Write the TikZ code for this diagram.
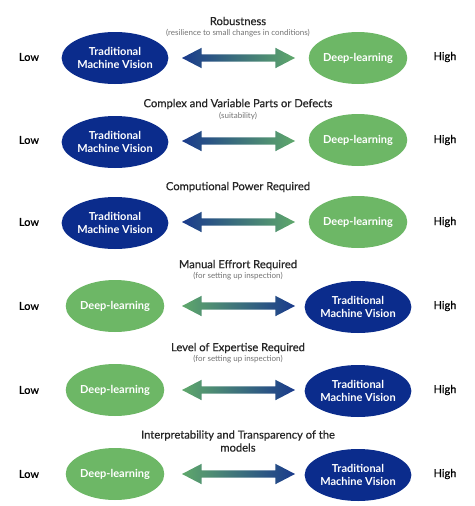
\documentclass[tikz,border=0pt]{standalone}
\usepackage{fontspec}
\setmainfont{Lato}
\newfontfamily\medfont[FakeBold=0.6]{Lato}
\usetikzlibrary{shapes.geometric,shapes.arrows}
\definecolor{navy}{HTML}{0B2C8C}
\definecolor{dlgreen}{HTML}{6DB766}
\definecolor{arblue}{HTML}{1A3A8C}
\definecolor{argreen}{HTML}{5FA86B}
\begin{document}
\begin{tikzpicture}[x=1pt,y=-1pt,
  tmv/.style={ellipse, fill=navy, minimum width=94pt, minimum height=52pt, inner sep=0pt,
    text=white, align=center, font=\bfseries\fontsize{11}{13.5}\selectfont},
  dl/.style={ellipse, fill=dlgreen, minimum width=94pt, minimum height=52pt, inner sep=0pt,
    text=white, align=center, font=\bfseries\fontsize{11}{13.5}\selectfont},
  ttl/.style={text=black!85, align=center, font=\medfont\fontsize{11.2}{13}\selectfont},
  subt/.style={text=black!55, font=\fontsize{8}{9}\selectfont},
  lbl/.style={text=black, font=\medfont\fontsize{11}{13}\selectfont},
  dbl/.style={double arrow, minimum height=113pt, minimum width=20pt,
    double arrow head extend=6.5pt, double arrow tip angle=55, inner sep=3.5pt, draw=none},
  bg/.style={dbl, left color=arblue, right color=argreen},
  gb/.style={dbl, left color=argreen, right color=arblue}
]
\useasboundingbox (0,0) rectangle (474,506);

% Row 1
\node[ttl] (t1) at (238,21) {Robustness};
\node[subt] (s1) at (238,33) {(resilience to small changes in conditions)};
\node[lbl] (lo1) at (29,57) {Low};
\node[lbl] (hi1) at (445,57) {High};
\node[tmv] (a1) at (115,58) {Traditional\\Machine Vision};
\node[dl] (b1) at (358,58) {Deep-learning};
\node[bg] (r1) at (238.5,58) {};

% Row 2
\node[ttl] (t2) at (238,104) {Complex and Variable Parts or Defects};
\node[subt] (s2) at (238,116) {(suitability)};
\node[lbl] (lo2) at (29,140) {Low};
\node[lbl] (hi2) at (445,140) {High};
\node[tmv] (a2) at (115,142) {Traditional\\Machine Vision};
\node[dl] (b2) at (358,140) {Deep-learning};
\node[bg] (r2) at (238.5,141) {};

% Row 3
\node[ttl] (t3) at (238,187) {Computional Power Required};
\node[lbl] (lo3) at (29,222) {Low};
\node[lbl] (hi3) at (445,222) {High};
\node[tmv] (a3) at (115,223) {Traditional\\Machine Vision};
\node[dl] (b3) at (358,222) {Deep-learning};
\node[bg] (r3) at (238.5,222) {};

% Row 4
\node[ttl] (t4) at (238,265) {Manual Effrort Required};
\node[subt] (s4) at (238,276) {(for setting up inspection)};
\node[lbl] (lo4) at (29,306) {Low};
\node[lbl] (hi4) at (445,306) {High};
\node[dl] (a4) at (115,306) {Deep-learning};
\node[tmv] (b4) at (358,307) {Traditional\\Machine Vision};
\node[gb] (r4) at (238.5,306) {};

% Row 5
\node[ttl] (t5) at (238,348) {Level of Expertise Required};
\node[subt] (s5) at (238,359) {(for setting up inspection)};
\node[lbl] (lo5) at (29,390) {Low};
\node[lbl] (hi5) at (445,390) {High};
\node[dl] (a5) at (115,390) {Deep-learning};
\node[tmv] (b5) at (358,391) {Traditional\\Machine Vision};
\node[gb] (r5) at (238.5,390) {};

% Row 6
\node[ttl] (t6) at (238,441) {Interpretability and Transparency of the\\models};
\node[lbl] (lo6) at (29,474) {Low};
\node[lbl] (hi6) at (445,474) {High};
\node[dl] (a6) at (115,474) {Deep-learning};
\node[tmv] (b6) at (358,475) {Traditional\\Machine Vision};
\node[gb] (r6) at (238.5,474) {};
\end{tikzpicture}
\end{document}
